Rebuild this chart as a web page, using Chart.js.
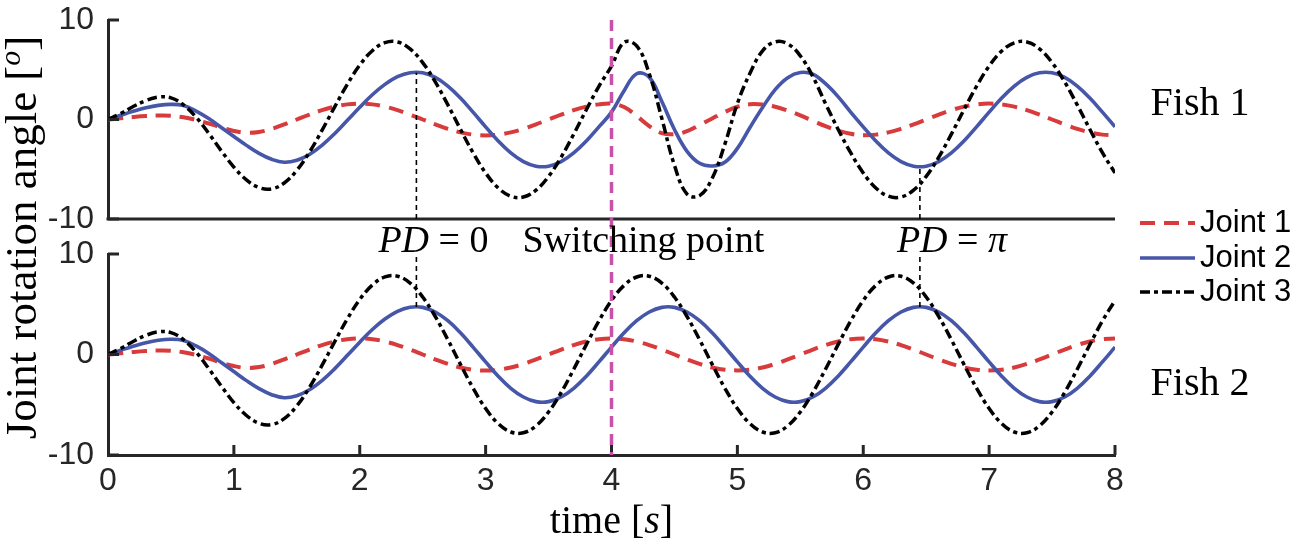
<!DOCTYPE html>
<html>
<head>
<meta charset="utf-8">
<script src="https://cdn.jsdelivr.net/npm/chart.js@4.4.1/dist/chart.umd.min.js"></script>
<style>
  html, body { margin: 0; padding: 0; background: #fff; }
  #wrap { width: 1296px; height: 550px; }
</style>
</head>
<body>
<div id="wrap"><canvas id="fishChart" width="1296" height="550"></canvas></div>
<script>
// time axis, seconds
const time = [
  0, 0.1, 0.2, 0.3, 0.4, 0.5, 0.6, 0.7, 0.8, 0.9,
  1, 1.1, 1.2, 1.3, 1.4, 1.5, 1.6, 1.7, 1.8, 1.9,
  2, 2.1, 2.2, 2.3, 2.4, 2.5, 2.6, 2.7, 2.8, 2.9,
  3, 3.1, 3.2, 3.3, 3.4, 3.5, 3.6, 3.7, 3.8, 3.9,
  4, 4.1, 4.2, 4.3, 4.4, 4.5, 4.6, 4.7, 4.8, 4.9,
  5, 5.1, 5.2, 5.3, 5.4, 5.5, 5.6, 5.7, 5.8, 5.9,
  6, 6.1, 6.2, 6.3, 6.4, 6.5, 6.6, 6.7, 6.8, 6.9,
  7, 7.1, 7.2, 7.3, 7.4, 7.5, 7.6, 7.7, 7.8, 7.9,
  8
];

// Fish 1 joint angles (deg)
const fish1Joint1 = [
  0, 0.12, 0.25, 0.35, 0.40, 0.38, 0.22, -0.05, -0.40, -0.80,
  -1.15, -1.33, -1.25, -0.94, -0.49, 0, 0.49, 0.94, 1.29, 1.52,
  1.60, 1.52, 1.29, 0.94, 0.49, 0, -0.49, -0.94, -1.29, -1.52,
  -1.60, -1.52, -1.29, -0.94, -0.49, 0, 0.49, 0.94, 1.29, 1.52,
  1.60, 1.25, 0.36, -0.66, -1.37, -1.47, -1.18, -0.55, 0.10, 0.75,
  1.28, 1.53, 1.50, 1.28, 0.90, 0.41, -0.13, -0.67, -1.12, -1.44,
  -1.59, -1.52, -1.29, -0.94, -0.49, 0, 0.49, 0.94, 1.29, 1.52,
  1.60, 1.52, 1.29, 0.94, 0.49, 0, -0.49, -0.94, -1.29, -1.52,
  -1.60
];
const fish1Joint2 = [
  0, 0.42, 0.82, 1.17, 1.42, 1.52, 1.40, 0.85, 0.10, -0.80,
  -1.70, -2.60, -3.40, -4.00, -4.30, -4.10, -3.51, -2.59, -1.43, -0.11,
  1.23, 2.49, 3.53, 4.30, 4.70, 4.69, 4.23, 3.36, 2.16, 0.74,
  -0.74, -2.16, -3.36, -4.23, -4.69, -4.69, -4.23, -3.36, -2.16, -0.74,
  0.74, 2.90, 4.60, 4.25, 1.80, -1.00, -3.20, -4.40, -4.67, -4.30,
  -2.90, -0.80, 1.20, 3.00, 4.20, 4.72, 4.55, 3.60, 2.30, 0.74,
  -0.74, -2.16, -3.36, -4.23, -4.69, -4.69, -4.23, -3.36, -2.16, -0.74,
  0.74, 2.16, 3.36, 4.23, 4.69, 4.69, 4.23, 3.36, 2.16, 0.74,
  -0.74
];
const fish1Joint3 = [
  0, 0.60, 1.30, 1.90, 2.25, 2.18, 1.47, 0.23, -1.39, -3.14,
  -4.78, -6.07, -6.84, -6.97, -6.38, -5.11, -3.29, -1.09, 1.25, 3.51,
  5.47, 6.91, 7.72, 7.79, 7.10, 5.72, 3.78, 1.47, -0.98, -3.34,
  -5.37, -6.88, -7.71, -7.79, -7.10, -5.72, -3.78, -1.47, 0.98, 3.34,
  5.37, 7.75, 7.40, 4.60, 0.10, -4.60, -7.50, -7.65, -5.90, -2.50,
  1.60, 4.64, 6.90, 7.80, 7.60, 6.40, 4.30, 1.60, -0.98, -3.34,
  -5.37, -6.88, -7.71, -7.79, -7.10, -5.72, -3.78, -1.47, 0.98, 3.34,
  5.37, 6.88, 7.71, 7.79, 7.10, 5.72, 3.78, 1.47, -0.98, -3.34,
  -5.37
];

// Fish 2 joint angles (deg)
const fish2Joint1 = [
  0, 0.12, 0.25, 0.35, 0.40, 0.38, 0.22, -0.05, -0.40, -0.80,
  -1.15, -1.33, -1.25, -0.94, -0.49, 0, 0.49, 0.94, 1.29, 1.52,
  1.60, 1.52, 1.29, 0.94, 0.49, 0, -0.49, -0.94, -1.29, -1.52,
  -1.60, -1.52, -1.29, -0.94, -0.49, 0, 0.49, 0.94, 1.29, 1.52,
  1.60, 1.52, 1.29, 0.94, 0.49, 0, -0.49, -0.94, -1.29, -1.52,
  -1.58, -1.52, -1.29, -0.94, -0.49, 0, 0.49, 0.94, 1.29, 1.52,
  1.58, 1.52, 1.29, 0.94, 0.49, 0, -0.49, -0.94, -1.29, -1.52,
  -1.58, -1.52, -1.29, -0.94, -0.49, 0, 0.49, 0.94, 1.29, 1.52,
  1.58
];
const fish2Joint2 = [
  0, 0.42, 0.82, 1.17, 1.42, 1.52, 1.40, 0.85, 0.10, -0.80,
  -1.70, -2.60, -3.40, -4.00, -4.30, -4.10, -3.51, -2.59, -1.43, -0.11,
  1.23, 2.49, 3.53, 4.30, 4.70, 4.69, 4.23, 3.36, 2.16, 0.74,
  -0.74, -2.16, -3.36, -4.23, -4.69, -4.69, -4.23, -3.36, -2.16, -0.74,
  0.74, 2.16, 3.36, 4.23, 4.69, 4.69, 4.23, 3.36, 2.16, 0.74,
  -0.74, -2.16, -3.36, -4.23, -4.69, -4.69, -4.23, -3.36, -2.16, -0.74,
  0.74, 2.16, 3.36, 4.23, 4.69, 4.69, 4.23, 3.36, 2.16, 0.74,
  -0.74, -2.16, -3.36, -4.23, -4.69, -4.69, -4.23, -3.36, -2.16, -0.74,
  0.74
];
const fish2Joint3 = [
  0, 0.60, 1.30, 1.90, 2.25, 2.18, 1.47, 0.23, -1.39, -3.14,
  -4.78, -6.07, -6.84, -6.97, -6.38, -5.11, -3.29, -1.09, 1.25, 3.51,
  5.47, 6.91, 7.72, 7.79, 7.10, 5.72, 3.78, 1.47, -0.98, -3.34,
  -5.37, -6.88, -7.71, -7.79, -7.10, -5.72, -3.78, -1.47, 0.98, 3.34,
  5.37, 6.88, 7.71, 7.79, 7.10, 5.72, 3.78, 1.47, -0.98, -3.34,
  -5.37, -6.88, -7.71, -7.79, -7.10, -5.72, -3.78, -1.47, 0.98, 3.34,
  5.37, 6.88, 7.71, 7.79, 7.10, 5.72, 3.78, 1.47, -0.98, -3.34,
  -5.37, -6.88, -7.71, -7.79, -7.10, -5.72, -3.78, -1.47, 0.98, 3.34,
  5.37
];

const jointLabels = ['Joint 1', 'Joint 2', 'Joint 3'];
const fishLabels = ['Fish 1', 'Fish 2'];
const xTicks = [0, 1, 2, 3, 4, 5, 6, 7, 8];
const yTicks = [-10, 0, 10];
const switchTime = 4;
const pdTimes = [2.45, 6.45];

const SERIF = '"Liberation Serif", "DejaVu Serif", serif';
const SANS = '"Liberation Sans", Arial, sans-serif';
const AXIS = '#262626';
const jointStyles = [
  {color: '#d83b3b', width: 4, dash: [15, 9]},
  {color: '#4656a8', width: 3.6, dash: []},
  {color: '#000000', width: 3.5, dash: [10, 4, 4, 4]}
];

function series(values) {
  return time.map((t, i) => ({x: t, y: values[i]}));
}

function valueAt(values, t) {
  for (let i = 1; i < time.length; i++) {
    if (time[i] >= t) {
      const f = (t - time[i - 1]) / (time[i] - time[i - 1]);
      return values[i - 1] + f * (values[i] - values[i - 1]);
    }
  }
  return values[values.length - 1];
}

// draw a run of text pieces with different fonts
function drawParts(ctx, parts, x, y, align) {
  let total = 0;
  parts.forEach(p => {
    ctx.font = p.font;
    p.w = ctx.measureText(p.text).width;
    total += p.w;
  });
  let cx = align === 'center' ? x - total / 2 : x;
  ctx.textAlign = 'left';
  ctx.textBaseline = 'alphabetic';
  parts.forEach(p => {
    ctx.font = p.font;
    ctx.fillText(p.text, cx, y + (p.dy || 0));
    cx += p.w;
  });
}

const fishData = [
  [fish1Joint1, fish1Joint2, fish1Joint3],
  [fish2Joint1, fish2Joint2, fish2Joint3]
];
const datasets = [];
fishData.forEach((joints, f) => {
  joints.forEach((values, j) => {
    datasets.push({
      label: fishLabels[f] + ' ' + jointLabels[j],
      data: series(values),
      yAxisID: f === 0 ? 'yTop' : 'yBot',
      borderColor: jointStyles[j].color,
      borderWidth: jointStyles[j].width,
      borderDash: jointStyles[j].dash,
      pointRadius: 0,
      fill: false,
      tension: 0.4,
      order: 3 - j
    });
  });
});

const extras = {
  id: 'extras',
  afterDatasetsDraw(chart) {
    const {ctx, chartArea, scales} = chart;
    const x = scales.x, yTop = scales.yTop, yBot = scales.yBot;
    ctx.save();

    // bottom line of the upper axes
    ctx.strokeStyle = AXIS;
    ctx.lineWidth = 3;
    ctx.beginPath();
    ctx.moveTo(chartArea.left - 1.5, yTop.getPixelForValue(-10));
    ctx.lineTo(chartArea.right, yTop.getPixelForValue(-10));
    ctx.stroke();

    // inward ticks
    xTicks.slice(1).forEach(t => {
      const px = x.getPixelForValue(t);
      ctx.beginPath();
      ctx.moveTo(px, chartArea.bottom);
      ctx.lineTo(px, chartArea.bottom - 10);
      ctx.stroke();
    });
    [yTop, yBot].forEach(s => {
      yTicks.forEach(v => {
        const py = s.getPixelForValue(v);
        ctx.beginPath();
        ctx.moveTo(chartArea.left, py);
        ctx.lineTo(chartArea.left + 11, py);
        ctx.stroke();
      });
    });

    // phase difference markers
    ctx.strokeStyle = '#000';
    ctx.lineWidth = 1.6;
    ctx.setLineDash([5, 4]);
    pdTimes.forEach(t => {
      const px = x.getPixelForValue(t);
      ctx.beginPath();
      ctx.moveTo(px, yTop.getPixelForValue(-10));
      ctx.lineTo(px, yTop.getPixelForValue(valueAt(fish1Joint2, t)));
      ctx.stroke();
      ctx.beginPath();
      ctx.moveTo(px, yTop.getPixelForValue(-10) + 38);
      ctx.lineTo(px, yBot.getPixelForValue(valueAt(fish2Joint2, t)));
      ctx.stroke();
    });

    // switching point
    const sx = x.getPixelForValue(switchTime);
    ctx.strokeStyle = '#c752a8';
    ctx.lineWidth = 3.5;
    ctx.setLineDash([11, 7]);
    ctx.beginPath();
    ctx.moveTo(sx, chartArea.top);
    ctx.lineTo(sx, chartArea.bottom);
    ctx.stroke();
    ctx.setLineDash([]);

    // texts between the two axes
    ctx.fillStyle = '#000';
    const base = yTop.getPixelForValue(-10) + 33;
    drawParts(ctx, [
      {text: 'PD', font: 'italic 38px ' + SERIF},
      {text: ' = 0', font: '38px ' + SERIF}
    ], x.getPixelForValue(pdTimes[0]) - 38, base, 'left');
    drawParts(ctx, [{text: 'Switching point', font: '38px ' + SERIF}],
      sx - 89, base, 'left');
    drawParts(ctx, [
      {text: 'PD', font: 'italic 38px ' + SERIF},
      {text: ' = ', font: '38px ' + SERIF},
      {text: '\u03c0', font: 'italic 38px ' + SERIF}
    ], x.getPixelForValue(pdTimes[1]) - 23, base, 'left');

    // fish labels
    const fx = chartArea.right + 85;
    drawParts(ctx, [{text: fishLabels[0], font: '40px ' + SERIF}], fx, yTop.getPixelForValue(0) - 5, 'center');
    drawParts(ctx, [{text: fishLabels[1], font: '40px ' + SERIF}], fx, yBot.getPixelForValue(-4), 'center');

    // legend
    const legendY = [223, 258, 292];
    jointLabels.forEach((name, j) => {
      const st = jointStyles[j];
      ctx.strokeStyle = st.color;
      ctx.lineWidth = st.width;
      ctx.setLineDash(st.dash);
      ctx.beginPath();
      ctx.moveTo(chartArea.right + 25, legendY[j]);
      ctx.lineTo(chartArea.right + 80, legendY[j]);
      ctx.stroke();
      ctx.setLineDash([]);
      ctx.fillStyle = '#000';
      ctx.font = '31px ' + SANS;
      ctx.textAlign = 'left';
      ctx.textBaseline = 'middle';
      ctx.fillText(name, chartArea.right + 85, legendY[j]);
    });

    // axis titles
    ctx.fillStyle = '#000';
    drawParts(ctx, [
      {text: 'time [', font: '40px ' + SERIF},
      {text: 's', font: 'italic 40px ' + SERIF},
      {text: ']', font: '40px ' + SERIF}
    ], (chartArea.left + chartArea.right) / 2, 533, 'center');

    ctx.translate(36, (chartArea.top + chartArea.bottom) / 2);
    ctx.rotate(-Math.PI / 2);
    drawParts(ctx, [
      {text: 'Joint rotation angle [', font: '45px ' + SERIF},
      {text: 'o', font: 'italic 30px ' + SERIF, dy: -16},
      {text: ']', font: '45px ' + SERIF}
    ], 0, 0, 'center');

    ctx.restore();
  }
};

function yScale(weight) {
  return {
    type: 'linear',
    position: 'left',
    stack: 'fish',
    stackWeight: weight,
    min: -10,
    max: 10,
    grid: {display: false, drawTicks: false},
    border: {display: true, color: AXIS, width: 3},
    ticks: {stepSize: 10, padding: 14, color: AXIS, font: {family: SANS, size: 32}},
    afterFit(scale) {
      scale.width = 108;
      scale.paddingTop = 0;
      scale.paddingBottom = 0;
    }
  };
}

new Chart(document.getElementById('fishChart'), {
  type: 'line',
  data: {datasets: datasets},
  options: {
    responsive: false,
    animation: false,
    layout: {padding: {left: 0, right: 181, top: 20, bottom: 0}},
    plugins: {legend: {display: false}, tooltip: {enabled: false}},
    scales: {
      x: {
        type: 'linear',
        min: 0,
        max: 8,
        grid: {display: false, drawTicks: false},
        border: {display: true, color: AXIS, width: 3},
        ticks: {stepSize: 1, padding: 7, color: AXIS, font: {family: SANS, size: 32}},
        afterFit(scale) {
          scale.height = 95;
          scale.paddingLeft = 0;
          scale.paddingRight = 0;
        }
      },
      yBot: yScale(201),
      yGap: {type: 'linear', position: 'left', stack: 'fish', stackWeight: 35, display: false, min: 0, max: 1},
      yTop: yScale(199)
    }
  },
  plugins: [extras]
});
</script>
</body>
</html>
